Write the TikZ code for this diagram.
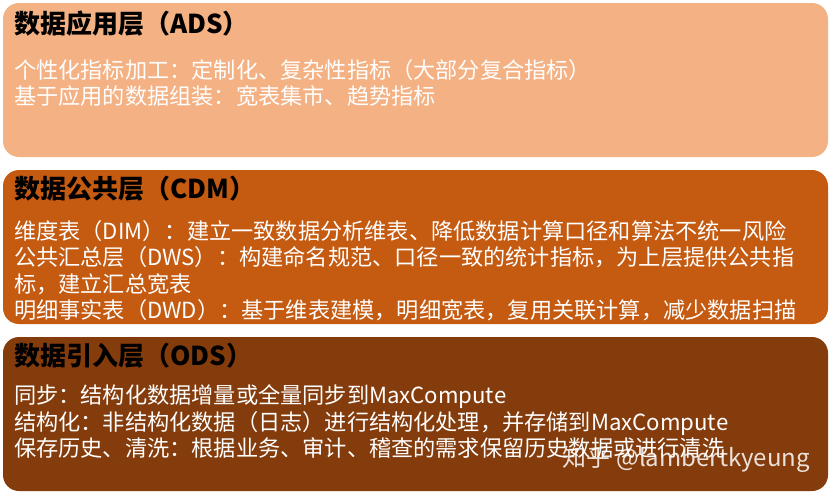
\documentclass[tikz,border=0pt]{standalone}
\usepackage{fontspec}
\setmainfont{Noto Sans CJK SC}
\usetikzlibrary{positioning}
\definecolor{adsfill}{HTML}{F4B183}
\definecolor{cdmfill}{HTML}{C55A11}
\definecolor{odsfill}{HTML}{843C0C}
\def\boxW{825pt}
\def\boxH{154pt}
\def\ysep{167pt}
\def\xpad{11pt}

\begin{document}
\begin{tikzpicture}[
    x=1pt, y=1pt,
    layerbox/.style={
      rounded corners=16pt, minimum width=\boxW, minimum height=\boxH, inner sep=0pt
    },
    layertitle/.style={
      inner sep=0pt, font=\fontsize{26}{30}\selectfont\bfseries
    },
    layertext/.style={
      inner sep=0pt, align=left, text=white,
      font=\fontsize{22.2}{26.5}\selectfont
    }
  ]
    \useasboundingbox (0,0) rectangle (833,-496);

    \node[layerbox, fill=adsfill] (ADS) at (415.5, -80) {};
    \node[layerbox, fill=cdmfill] (CDM) at (415.5, -80-1*\ysep) {};
    \node[layerbox, fill=odsfill] (ODS) at (415.5, -80-2*\ysep) {};

    \node[layertitle, below right=8pt and \xpad of ADS.north west] (ADSTitle) {数据应用层（ADS）};
    \node[layertext, below right=56pt and \xpad of ADS.north west] (ADSText) {
      个性化指标加工：定制化、复杂性指标（大部分复合指标）\\
      基于应用的数据组装：宽表集市、趋势指标};

    \node[layertitle, below right=6pt and \xpad of CDM.north west] (CDMTitle) {数据公共层（CDM）};
    \node[layertext, below right=50pt and \xpad of CDM.north west] (CDMText) {
      维度表（DIM）：建立一致数据分析维表、降低数据计算口径和算法不统一风险\\
      公共汇总层（DWS）：构建命名规范、口径一致的统计指标，为上层提供公共指\\
      标，建立汇总宽表\\
      明细事实表（DWD）：基于维表建模，明细宽表，复用关联计算，减少数据扫描};

    \node[layertitle, below right=6pt and \xpad of ODS.north west] (ODSTitle) {数据引入层（ODS）};
    \node[layertext, below right=48pt and \xpad of ODS.north west] (ODSText) {
      同步：结构化数据增量或全量同步到MaxCompute\\
      结构化：非结构化数据（日志）进行结构化处理，并存储到MaxCompute\\
      保存历史、清洗：根据业务、审计、稽查的需求保留历史数据或进行清洗};

    % watermark
    \node[layertext, opacity=0.85, font=\fontsize{24}{28}\selectfont, anchor=east] (Mark) at (810, -459) {知乎 @lambertkyeung};
  \end{tikzpicture}
\end{document}
